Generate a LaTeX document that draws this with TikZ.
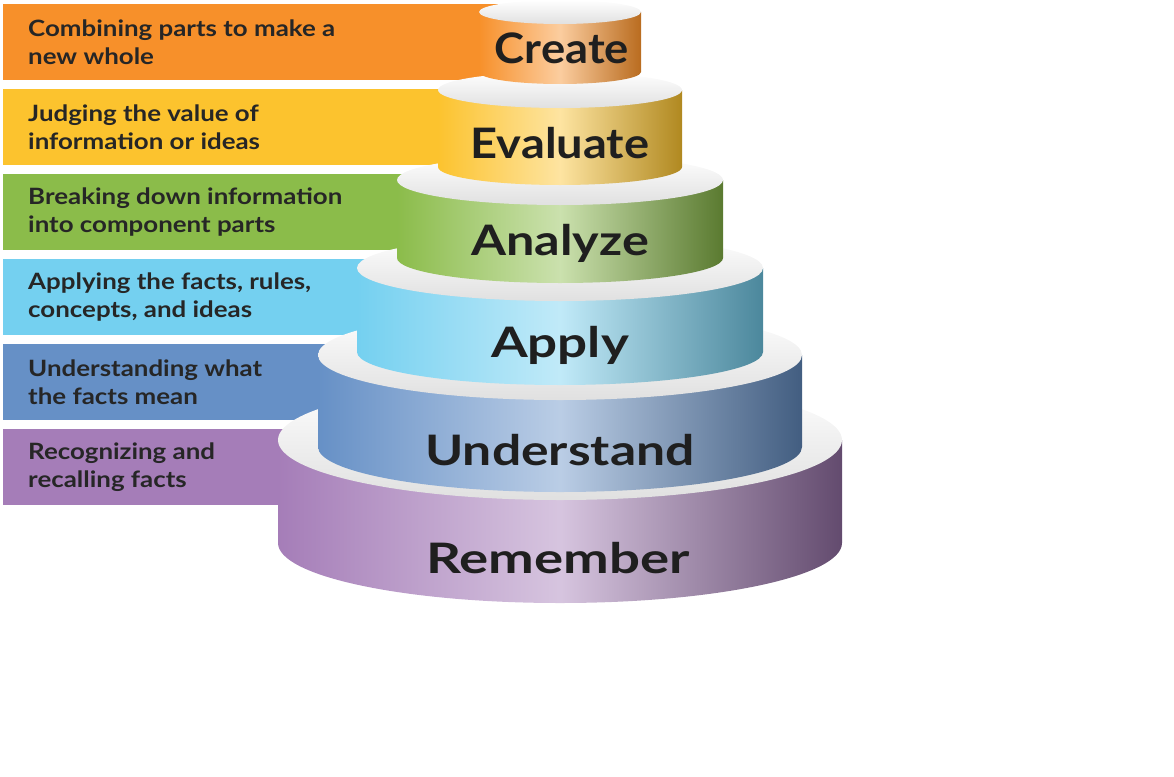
\documentclass[tikz,border=0pt]{standalone}
\usepackage{fontspec}
\setmainfont{Lato}
\begin{document}
\begin{tikzpicture}[x=1pt,y=-1pt,
  btext/.style={anchor=west,align=left,inner sep=0pt,font=\fontsize{22.5}{28}\selectfont\bfseries,text=black!85,xscale=1.15},
  ltext/.style={font=\fontsize{42}{44}\selectfont\bfseries,text=black!88}]
\useasboundingbox (0,0) rectangle (1174,776);
\definecolor{cO}{HTML}{F7902A}\definecolor{cY}{HTML}{FCC32E}
\definecolor{cG}{HTML}{8BBC4A}\definecolor{cB}{HTML}{74D0F0}
\definecolor{cU}{HTML}{6690C6}\definecolor{cP}{HTML}{A57DB8}
% banners
\foreach \c/\y in {cO/4,cY/89,cG/174,cB/259,cU/344,cP/429}{
  \fill[\c] (3,\y) rectangle (600,\y+76);}
\node[btext] (t1) at (28,42) {Combining parts to make a\\new whole};
\node[btext] (t2) at (28,127) {Judging the value of\\information or ideas};
\node[btext] (t3) at (28,212) {Breaking down information\\into component parts};
\node[btext] (t4) at (28,297) {Applying the facts, rules,\\concepts, and ideas};
\node[btext] (t5) at (28,382) {Understanding what\\the facts mean};
\node[btext] (t6) at (28,467) {Recognizing and\\recalling facts};
% cylinders bottom to top
\foreach \rx/\yt/\yb/\ry/\c/\cd in {282/440/543/60/cP/cP!60!black,
  242/355/447/45/cU/cU!65!black,203/268/352/33/cB/cB!65!black,
  163/180/258/25/cG/cG!65!black,122/90/167/18/cY/cY!70!black,81/12/72/12/cO/cO!75!black}{
  \shade[left color=\c,right color=\cd,middle color=\c!45!white]
    (560-\rx,\yt) -- (560-\rx,\yb) arc[start angle=180,end angle=0,x radius=\rx,y radius=\ry]
    -- (560+\rx,\yt) -- cycle;
  \shade[top color=white,bottom color=black!12] (560,\yt) ellipse ({\rx} and {\ry});
}
\node[ltext,xscale=1.08] (l1) at (562,48) {Create};
\node[ltext,xscale=1.12] (l2) at (560,143) {Evaluate};
\node[ltext,xscale=1.2] (l3) at (560,243) {Analyze};
\node[ltext,xscale=1.26] (l4) at (560,345) {Apply};
\node[ltext,xscale=1.23] (l5) at (560,450) {Understand};
\node[ltext,xscale=1.3] (l6) at (558,558) {Remember};
\end{tikzpicture}
\end{document}
